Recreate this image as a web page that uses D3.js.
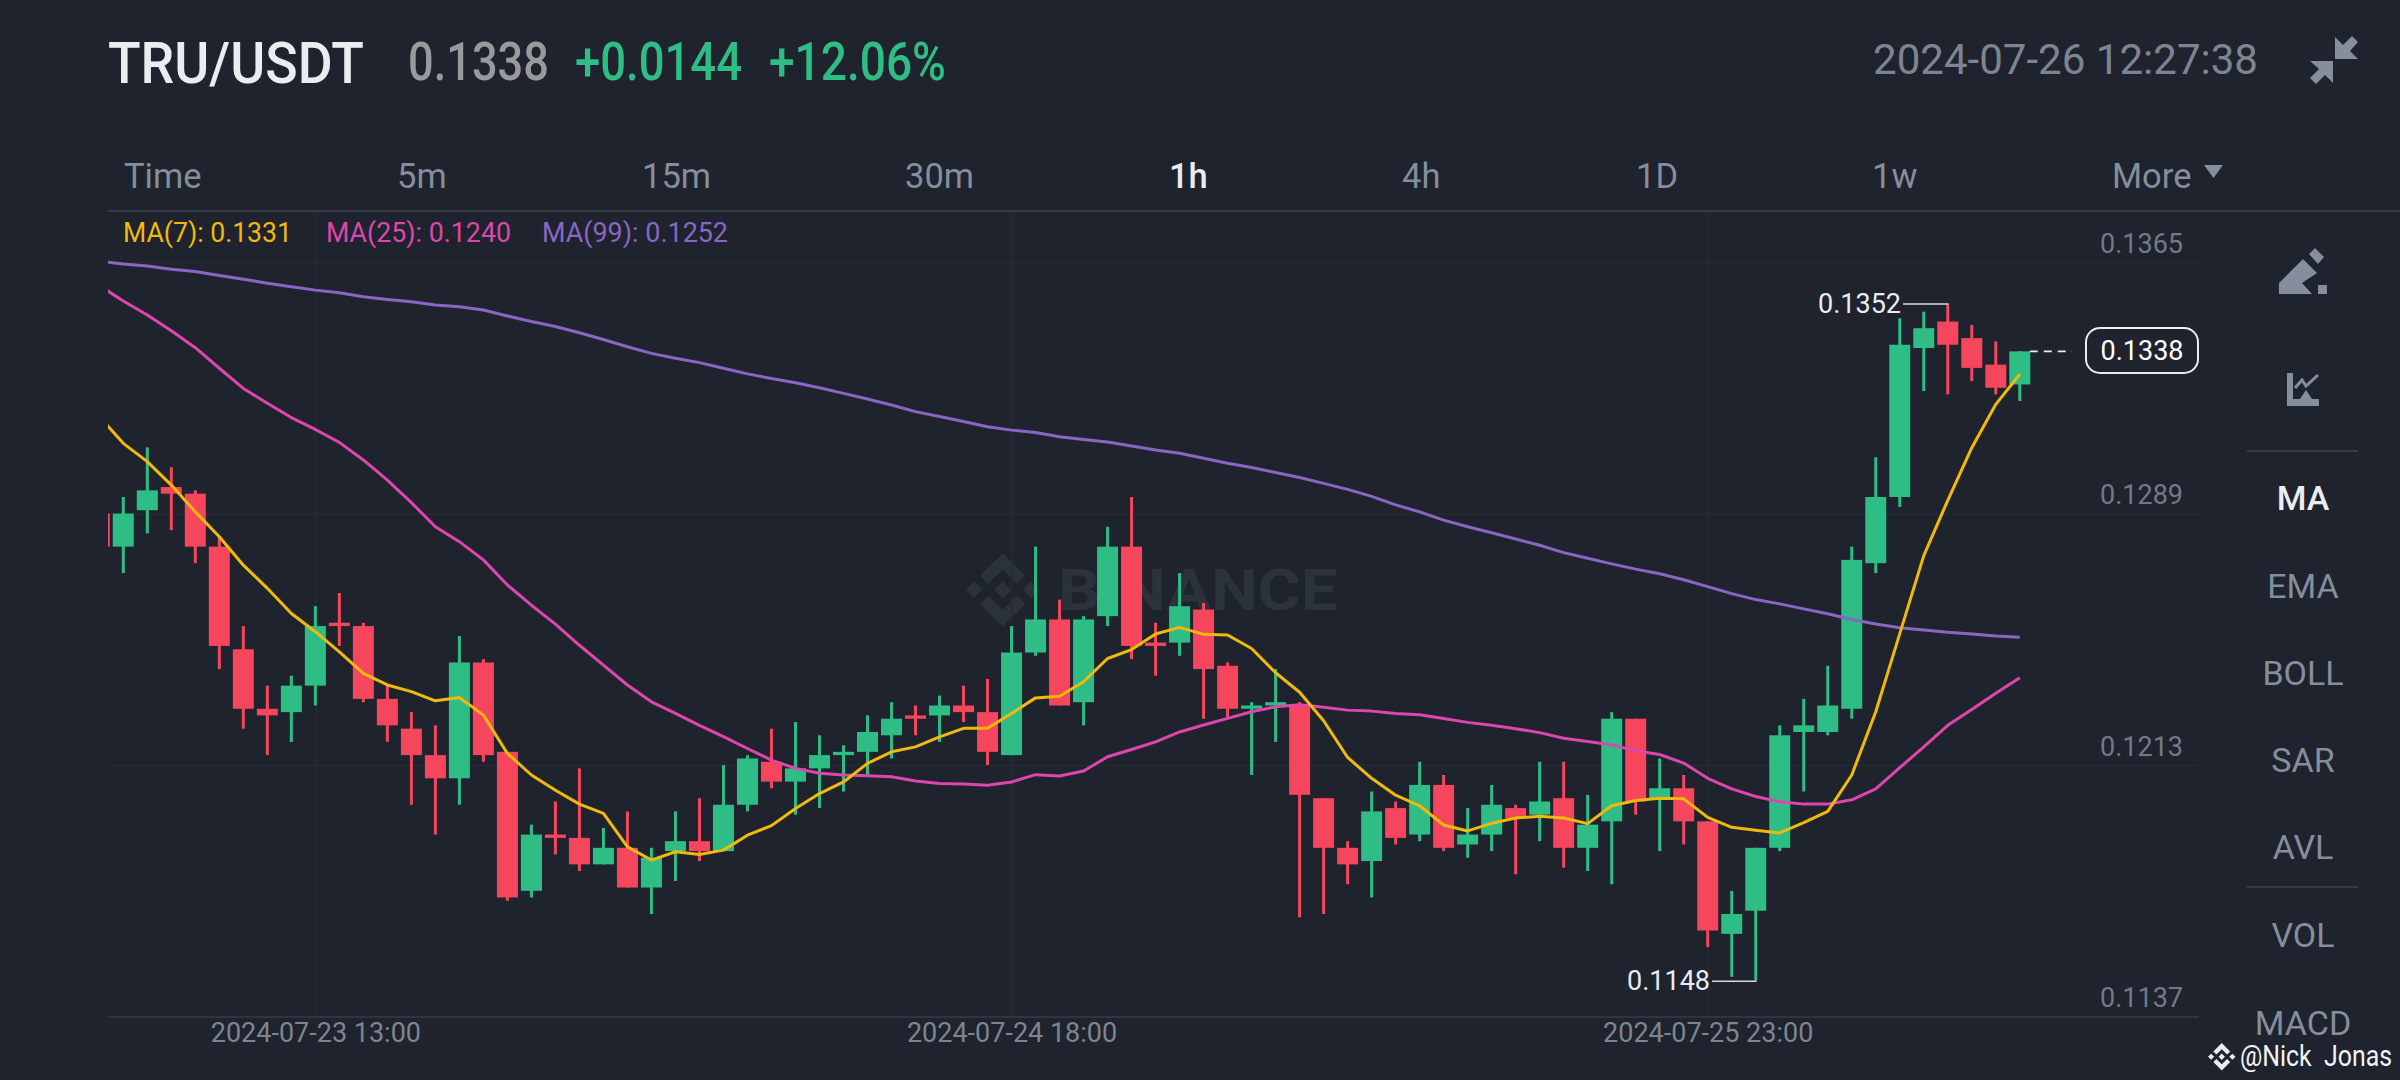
<!DOCTYPE html>
<html>
<head>
<meta charset="utf-8">
<script src="https://cdn.jsdelivr.net/npm/d3@7"></script>
<style>
html, body { margin: 0; padding: 0; background: #1e232d; }
svg { display: block; }
text { font-family: Roboto, sans-serif; }
</style>
</head>
<body>
<svg id="chart"></svg>
<script>
//all prices are in units of 0.0001//

var opens = [1289,1279,1290,1297,1295,1279,1248,1230,1229,1237,
             1256,1255,1233,1224,1216,1209,1244,1217,1175,1192,
             1191,1183,1188,1176,1187,1190,1187,1201,1214,1208,
             1212,1216,1217,1222,1228,1228,1231,1229,1216,1247,
             1257,1232,1258,1279,1250,1250,1260,1243,1230,1231,
             1231,1203,1188,1184,1200,1192,1207,1189,1192,1200,
             1198,1203,1188,1196,1227,1203,1206,1196,1162,1169,
             1188,1223,1223,1230,1274,1294,1339,1347,1342,1334,1328];
var closes = [1279,1289,1296,1295,1279,1249,1230,1228,1237,1255,
              1255,1233,1225,1216,1209,1244,1216,1173,1192,1191,
              1183,1188,1176,1185,1190,1187,1201,1215,1208,1212,
              1216,1217,1223,1227,1227,1231,1229,1217,1247,1257,
              1231,1257,1279,1249,1249,1261,1242,1230,1231,1232,
              1204,1188,1183,1199,1191,1207,1188,1192,1201,1197,
              1202,1188,1195,1227,1202,1206,1196,1163,1168,1188,
              1222,1225,1231,1275,1294,1340,1345,1340,1333,1327,1338];
var highs = [1289,1294,1309,1303,1296,1282,1255,1237,1240,1261,
             1265,1256,1237,1229,1225,1252,1245,1217,1195,1202,
             1212,1194,1199,1188,1199,1203,1213,1216,1224,1226,
             1222,1219,1228,1232,1231,1234,1237,1239,1255,1279,
             1263,1258,1285,1294,1256,1271,1262,1244,1232,1242,
             1232,1203,1190,1205,1202,1214,1210,1200,1207,1201,
             1214,1214,1204,1229,1227,1215,1210,1196,1175,1188,
             1225,1233,1243,1279,1306,1348,1350,1352,1346,1341,1338];
var lows = [1279,1271,1283,1284,1274,1242,1224,1216,1220,1231,
            1249,1232,1220,1201,1192,1201,1214,1172,1173,1186,
            1181,1183,1176,1168,1178,1184,1187,1199,1206,1198,
            1200,1205,1210,1215,1222,1220,1226,1213,1216,1246,
            1231,1225,1255,1245,1240,1246,1227,1227,1210,1220,
            1167,1168,1177,1173,1189,1190,1187,1185,1187,1180,
            1190,1182,1181,1177,1198,1187,1189,1158,1149,1148,
            1187,1205,1222,1227,1271,1291,1326,1325,1329,1325,1323];

var ma7 = [1318.3,1310.2,1304.7,1297.6,1289.5,1282,1273.4,1266.4,1258.8,1253.3,
           1247.2,1240.7,1237.2,1235.2,1232.4,1233.4,1228.1,1216.5,1210,1205.4,
           1201.2,1198.4,1188.3,1184.3,1186.8,1186,1187.3,1191.8,1194.7,1199.9,
           1204.4,1207.9,1213.5,1217,1218.5,1221.5,1224.1,1224.1,1228.6,1233.3,
           1233.8,1238.2,1245.2,1247.9,1252.6,1254.6,1252.5,1252.3,1248.2,1240.9,
           1235,1226.4,1215.3,1209,1203.9,1200.7,1194.9,1193.1,1195.4,1197,
           1197.5,1197,1195.3,1200.7,1202.3,1203,1202.8,1197.2,1194.2,1193.3,
           1192.5,1195.6,1199,1210,1229.1,1252.7,1276.3,1293,1308.9,1322,1331.1];
var ma25 = [1357.9,1353.2,1349,1344.2,1339.1,1332.9,1326.8,1322.3,1318,1314.4,
            1310.5,1305.2,1299.1,1292.3,1285,1280.5,1275,1267.4,1261.3,1255.6,
            1249.2,1243.2,1237.2,1232.1,1228.6,1225,1221.6,1218,1214.5,1212,
            1210.5,1210,1209.8,1209.5,1208.2,1207.4,1207.3,1206.9,1207.9,1210.1,
            1209.7,1211.2,1215.5,1217.7,1220,1223,1225.1,1227.1,1229.1,1230.6,
            1231.2,1230.5,1229.6,1229.3,1228.6,1228.2,1227.1,1225.9,1225,1224,
            1222.8,1221.1,1220.1,1219.1,1217.3,1216.2,1213.6,1209,1205.8,1203.5,
            1201.9,1201.2,1201.2,1202.5,1205.8,1212.2,1218.5,1225,1229.8,1234.7,1239.4];
var ma99 = [1365.2,1364.4,1363.8,1362.8,1362.1,1360.9,1359.8,1358.6,1357.5,1356.5,
            1355.7,1354.5,1353.7,1353,1352,1351.5,1350.5,1348.7,1347,1345.5,
            1343.6,1341.6,1339.4,1337.4,1335.9,1334.6,1332.9,1331.2,1329.8,1328.5,
            1327,1325.3,1323.6,1321.8,1319.8,1318.3,1316.8,1315.2,1314.2,1313.5,
            1312.2,1311.4,1310.6,1309.4,1308.2,1307.2,1305.7,1304.2,1302.9,1301.4,
            1299.9,1298.1,1296.3,1294.2,1291.6,1289.5,1287,1285,1283.2,1281.3,
            1279.4,1277.2,1275.5,1273.8,1272.2,1270.8,1269,1266.9,1264.8,1263,
            1261.7,1260.2,1258.7,1257,1255.6,1254.5,1253.8,1253.1,1252.6,1252,1251.6];

var priceTicks = [1365,1289,1213,1137];
var timeTicks = [9,38,67];
var timeLabels = ["2024-07-23 13:00","2024-07-24 18:00","2024-07-25 23:00"];
var tabLabels = ["Time","5m","15m","30m","1h","4h","1D","1w","More"];
var sideLabels = ["MA","EMA","BOLL","SAR","AVL","VOL","MACD"];
var maLegend = ["MA(7): 0.1331","MA(25): 0.1240","MA(99): 0.1252"];

var bg = "#1e232d", green = "#2ebd85", red = "#f6465d", gray = "#848e9c";
var maColors = ["#f0b90b","#de46ae","#8a66c4"];

var logoPath = "M9.8 13.4L16 7.2l6.2 6.2 3.6-3.6L16 0 6.2 9.8l3.6 3.6zM0 16l3.6-3.6L7.2 16l-3.6 3.6L0 16zm9.8 2.6L16 24.8l6.2-6.2 3.6 3.6L16 32l-9.8-9.8 3.6-3.6zM24.8 16l3.6-3.6L32 16l-3.6 3.6-3.6-3.6zm-5.1 0L16 12.3 12.3 16l3.7 3.7 3.7-3.7z";

var svg = d3.select("#chart").attr("width",2400).attr("height",1080);

svg.append("rect").attr("width",2400).attr("height",1080).attr("fill",bg);

//scales//

var xScale = d3.scaleLinear().domain([0,80]).range([99.3,2019.8]);
var yScale = d3.scaleLinear().domain([1137,1365]).range([1016.6,262]);

var addText = function(parent, str, x, y, size, fill, opts)
{
  opts = opts || {};
  var t = parent.append("text")
                .attr("x",x).attr("y",y)
                .attr("font-size",size)
                .attr("fill",fill)
                .attr("font-weight",opts.weight || 400)
                .attr("text-anchor",opts.anchor || "start")
                .text(str);
  if (opts.length)
  {
    t.attr("textLength",opts.length).attr("lengthAdjust","spacingAndGlyphs");
  }
  return t;
}

//header, squeezed a little since the original face is narrower//

addText(svg,"TRU/USDT",108,83,57,"#eaecef",{weight:500,length:256});
addText(svg,"0.1338",408,80,53,"#9a9a9c",{weight:500,length:141});
addText(svg,"+0.0144",575,80,53,green,{weight:500,length:167});
addText(svg,"+12.06%",769,80,53,green,{weight:500,length:177});
addText(svg,"2024-07-26 12:27:38",1873,74,43,"#7d8591",{length:385});

//compress icon//

svg.append("path")
   .attr("fill",gray)
   .attr("d","M2335 37L2335 59L2358 59L2350 51L2358 42L2352 36L2343 45Z"
           + "M2333 61L2333 83L2325 75L2316 84L2310 78L2319 69L2310 61Z");

//tabs//

var tabX = [124,397,642,905,1169,1402,1636,1872,2112];
tabLabels.forEach(function(label,i)
{
  var on = label == "1h";
  addText(svg,label,tabX[i],188,34.5,on ? "#eaecef" : gray,{weight:on ? 500 : 400});
});
svg.append("path").attr("fill",gray)
   .attr("d","M2204 165L2223 165L2213.5 178Z");

svg.append("line").attr("x1",108).attr("x2",2400).attr("y1",211).attr("y2",211)
   .attr("stroke","#363c47").attr("stroke-width",2);

//big watermark goes under everything//

var mark = svg.append("g").attr("fill","#2c323c");
mark.append("path").attr("d",logoPath)
    .attr("transform","translate(966,553) scale(2.3)");
addText(mark,"BINANCE",1058,610,58,"#2c323c",{weight:700,length:280});

//axes with their grid lines//

var yAxis = d3.axisRight(yScale)
              .tickValues(priceTicks)
              .tickSize(2091)
              .tickFormat(function(d){ return (d/10000).toFixed(4); });

var yG = svg.append("g").attr("transform","translate(108,0)").call(yAxis);
yG.select(".domain").remove();
yG.selectAll("line").attr("stroke",function(d){ return d == 1137 ? "#2f3540" : "#262b35"; })
  .attr("stroke-width",function(d){ return d == 1137 ? 2 : 1.5; });
yG.selectAll("text")
  .attr("x",2075).attr("y",-10).attr("dy",0)
  .attr("text-anchor","end")
  .attr("font-family","Roboto, sans-serif")
  .attr("font-size",27)
  .attr("fill","#727a86");

var xAxis = d3.axisBottom(xScale)
              .tickValues(timeTicks)
              .tickSize(-805)
              .tickFormat(function(d,i){ return timeLabels[i]; });

var xG = svg.append("g").attr("transform","translate(0,1016.6)").call(xAxis);
xG.select(".domain").remove();
xG.selectAll("line").attr("stroke","#262b35").attr("stroke-width",1.5);
xG.selectAll("text")
  .attr("y",25).attr("dy",0)
  .attr("font-family","Roboto, sans-serif")
  .attr("font-size",27)
  .attr("fill","#7d8591");

//candles, clipped at the left edge of the plot//

svg.append("clipPath").attr("id","plot")
   .append("rect").attr("x",108).attr("y",211).attr("width",2092).attr("height",806);

var plot = svg.append("g").attr("clip-path","url(#plot)");

var candles = plot.selectAll(".candle")
                  .data(d3.range(opens.length))
                  .enter()
                  .append("g")
                  .attr("class","candle")
                  .attr("fill",function(i){ return closes[i] >= opens[i] ? green : red; });

var bodyWidth = 21, wickWidth = 3;

candles.append("rect")
       .attr("x",function(i){ return xScale(i) - wickWidth/2; })
       .attr("width",wickWidth)
       .attr("y",function(i){ return yScale(highs[i]); })
       .attr("height",function(i){ return yScale(lows[i]) - yScale(highs[i]); });

candles.append("rect")
       .attr("x",function(i){ return xScale(i) - bodyWidth/2; })
       .attr("width",bodyWidth)
       .attr("y",function(i){ return yScale(Math.max(opens[i],closes[i])); })
       .attr("height",function(i){ return Math.abs(yScale(opens[i]) - yScale(closes[i])); });

//moving averages//

var maLine = d3.line()
               .x(function(d,i){ return xScale(i); })
               .y(function(d){ return yScale(d); });

[ma99,ma25,ma7].forEach(function(series,k)
{
  plot.append("path")
      .attr("d",maLine(series))
      .attr("fill","none")
      .attr("stroke",maColors[2-k])
      .attr("stroke-width",3)
      .attr("stroke-linejoin","round");
});

//legend//

var legendX = [123,326,542], legendW = [169,185,186];
maLegend.forEach(function(label,i)
{
  addText(svg,label,legendX[i],242,28,maColors[i],{length:legendW[i]});
});

//high and low labels//

var annotate = function(i, price, textEnd, lineY)
{
  addText(svg,(price/10000).toFixed(4),textEnd,lineY+9,27,"#eaecef",{anchor:"end"});
  svg.append("polyline")
     .attr("points",[[textEnd+2,lineY],[xScale(i),lineY],[xScale(i),yScale(price)]].join(" "))
     .attr("fill","none")
     .attr("stroke","#d5d7da")
     .attr("stroke-width",1.6);
}

annotate(77,highs[77],1901,yScale(highs[77])-1);
annotate(69,lows[69],1710,yScale(lows[69])+1);

//last price//

var lastY = yScale(closes[80]);
svg.append("line")
   .attr("x1",xScale(80)+10).attr("x2",2072).attr("y1",lastY).attr("y2",lastY)
   .attr("stroke","#eaecef").attr("stroke-width",1.8).attr("stroke-dasharray","8 6");
svg.append("rect")
   .attr("x",2086).attr("y",328).attr("width",112).attr("height",45).attr("rx",14)
   .attr("fill",bg).attr("stroke","#eaecef").attr("stroke-width",2);
addText(svg,(closes[80]/10000).toFixed(4),2142,360,27,"#ffffff",{anchor:"middle"});

//side column//

svg.append("path").attr("fill",gray)
   .attr("d","M2279 294L2279 283L2303 259L2317 273L2302 283L2312 294Z"
           + "M2309 254L2315 248L2324 257L2318 264Z"
           + "M2318 285L2327 285L2327 294L2318 294Z");
svg.append("path").attr("fill",gray)
   .attr("d","M2287 373L2293 373L2293 399L2319 399L2319 406L2287 406Z"
           + "M2300 399L2306 390L2312 399Z");
svg.append("polyline")
   .attr("points","2295,388 2302,380 2306,386 2318,375")
   .attr("fill","none").attr("stroke",gray).attr("stroke-width",3);

var sideY = [510,598,685,772,859,947,1035];
sideLabels.forEach(function(label,i)
{
  addText(svg,label,2303,sideY[i],34,i == 0 ? "#eaecef" : gray,{anchor:"middle",weight:i == 0 ? 500 : 400});
});

[451,887].forEach(function(y)
{
  svg.append("line").attr("x1",2247).attr("x2",2358).attr("y1",y).attr("y2",y)
     .attr("stroke","#363c47").attr("stroke-width",2);
});

//credit in the corner//

svg.append("path").attr("d",logoPath).attr("fill","#eaecef")
   .attr("transform","translate(2208,1043) scale(0.86)");
addText(svg,"@Nick  Jonas",2240,1066,29,"#f2f3f5",{length:152}).style("white-space","pre");
</script>
</body>
</html>
